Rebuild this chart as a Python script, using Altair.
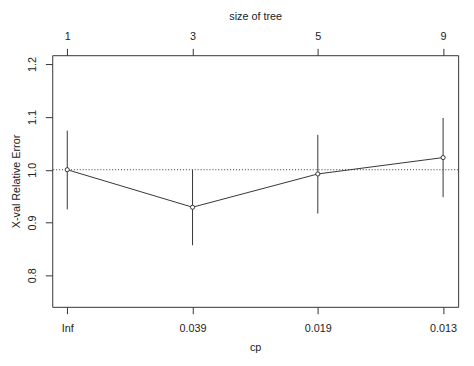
import json
import altair as alt
import pandas as pd

# ---- data (rpart plotcp output) ----
cp_labels = ["Inf", "0.039", "0.019", "0.013"]
tree_sizes = [1, 3, 5, 9]
xerror = [1.000, 0.929, 0.992, 1.023]
xerr_upper = [1.074, 1.000, 1.066, 1.098]
xerr_lower = [0.925, 0.857, 0.917, 0.948]
y_ticks = [0.8, 0.9, 1.0, 1.1, 1.2]
ref_line = [1.0]

positions = list(range(1, len(cp_labels) + 1))
df = pd.DataFrame({
    "pos": positions,
    "cp": cp_labels,
    "size": tree_sizes,
    "xerror": xerror,
    "hi": xerr_upper,
    "lo": xerr_lower,
})
ref_df = pd.DataFrame({"y": ref_line})

INK = "#333333"
TXT = "#222222"
FONT = "Liberation Sans"

xscale = alt.Scale(domain=[0.88, 4.12], nice=False, zero=False)
yscale = alt.Scale(domain=[0.7404, 1.2168], nice=False, zero=False)

cp_expr = json.dumps(cp_labels) + "[datum.value - 1]"
size_expr = json.dumps([str(s) for s in tree_sizes]) + "[datum.value - 1]"

common = dict(domain=False, grid=False, tickSize=7, tickColor=INK, tickWidth=1,
              labelFont=FONT, titleFont=FONT, labelFontSize=11, titleFontSize=11,
              labelColor=TXT, titleColor=TXT, titleFontWeight="normal")

bottom_axis = alt.Axis(orient="bottom", values=positions, labelExpr=cp_expr,
                       title="cp", labelPadding=9, titlePadding=8, **common)
top_axis = alt.Axis(orient="top", values=positions, labelExpr=size_expr,
                    title="size of tree", labelPadding=7, titlePadding=9, **common)
y_axis = alt.Axis(orient="left", values=y_ticks, format=".1f", title="X-val Relative Error",
                  labelAngle=270, labelAlign="center", labelBaseline="bottom",
                  labelPadding=8, titlePadding=5, **common)

base = alt.Chart(df)

ref = alt.Chart(ref_df).mark_rule(color=INK, strokeWidth=1, strokeDash=[1, 2]).encode(
    y=alt.Y("y:Q", scale=yscale, axis=y_axis)
)

bars = base.mark_rule(color=INK, strokeWidth=1).encode(
    x=alt.X("pos:Q", scale=xscale, axis=top_axis),
    y=alt.Y("lo:Q", scale=yscale, axis=y_axis),
    y2="hi:Q",
)

line = base.mark_line(color=INK, strokeWidth=1).encode(
    x=alt.X("pos:Q", scale=xscale, axis=bottom_axis),
    y=alt.Y("xerror:Q", scale=yscale, axis=y_axis),
)

pts = base.mark_point(shape="circle", size=18, fill="white", fillOpacity=1,
                      stroke=INK, strokeWidth=1, opacity=1).encode(
    x=alt.X("pos:Q", scale=xscale, axis=None),
    y=alt.Y("xerror:Q", scale=yscale, axis=y_axis),
)

chart = (
    alt.layer(ref, bars, line, pts)
    .resolve_axis(x="independent")
    .properties(
        width=413,
        height=256,
        autosize=alt.AutoSizeParams(type="none"),
        padding={"left": 45, "top": 45, "right": 8, "bottom": 48},
        background="white",
    )
    .configure_view(stroke=INK, strokeWidth=1)
)

chart.save("out.html", embed_options={"renderer": "svg", "actions": False})
